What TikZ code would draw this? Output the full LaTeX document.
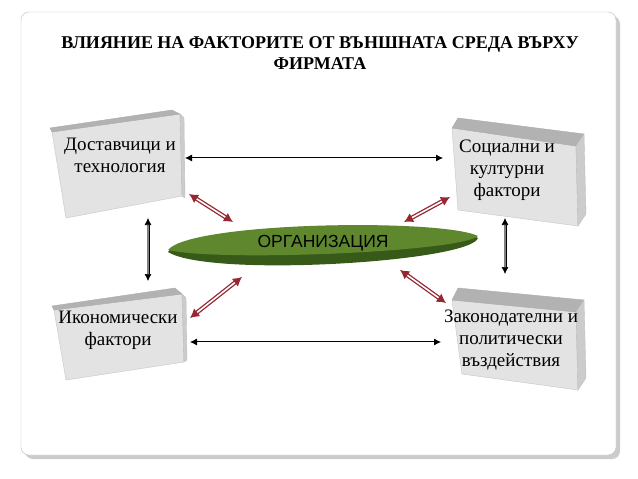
\documentclass[tikz,border=0pt]{standalone}
\usepackage{fontspec}
\setmainfont{Liberation Serif}
\newfontfamily\sansf{Liberation Sans}
\usetikzlibrary{arrows.meta}
\definecolor{orgdark}{RGB}{55,90,25}
\definecolor{orglight}{RGB}{95,135,45}
\definecolor{redarr}{RGB}{150,40,50}
\tikzset{
 front/.style={fill=gray!22,draw=gray!45},
 topf/.style={fill=gray!60,draw=gray!65},
 sidef/.style={fill=gray!40,draw=gray!50},
 lbl/.style={align=center,font=\fontsize{19}{22}\selectfont},
 redar/.style={draw=redarr,double=white,double distance=1.6pt,line width=1.3pt,{Latex[length=9pt,width=10pt]}-{Latex[length=9pt,width=10pt]}},
 blkar/.style={draw=black,double=white,double distance=1pt,line width=0.8pt,{Latex[length=7pt,width=7pt]}-{Latex[length=7pt,width=7pt]}},
 vblk/.style={draw=black,double=gray,double distance=1.6pt,line width=0.7pt,{Latex[length=7pt,width=7pt]}-{Latex[length=7pt,width=7pt]}}
}
\begin{document}
\begin{tikzpicture}[x=1pt,y=-1pt]
\useasboundingbox (0,0) rectangle (638,479);
\fill[white] (0,0) rectangle (638,479);
\fill[gray!40,rounded corners=8pt] (25,16) rectangle (620,459);
\draw[gray!50,fill=white,rounded corners=8pt] (21,12) rectangle (616,455);
\node[font=\bfseries\fontsize{18}{21}\selectfont,align=center] (title) at (320,53) {ВЛИЯНИЕ НА ФАКТОРИТЕ ОТ ВЪНШНАТА СРЕДА ВЪРХУ\\ФИРМАТА};
% TL box
\draw[front] (52,132) -- (180,114) -- (182,196) -- (66,218) -- cycle;
\draw[topf] (50,128) -- (172,110) -- (180,114) -- (52,132) -- cycle;
\draw[sidef] (180,114) -- (184,118) -- (185,198) -- (182,196) -- cycle;
\node[lbl] (sup) at (120,155) {Доставчици и\\технология};
% TR box
\draw[front] (452,128) -- (576,146) -- (578,226) -- (458,210) -- cycle;
\draw[topf] (452,128) -- (458,118) -- (584,134) -- (576,146) -- cycle;
\draw[sidef] (576,146) -- (584,134) -- (586,214) -- (578,226) -- cycle;
\node[lbl] (soc) at (507,170) {Социални и\\културни\\фактори};
% BL box
\draw[front] (54,310) -- (182,294) -- (184,362) -- (66,380) -- cycle;
\draw[topf] (52,306) -- (175,288) -- (182,294) -- (54,310) -- cycle;
\draw[sidef] (182,294) -- (186,298) -- (187,360) -- (184,362) -- cycle;
\node[lbl] (eco) at (118,330) {Икономически\\фактори};
% BR box
\draw[front] (452,300) -- (576,312) -- (578,390) -- (462,374) -- cycle;
\draw[topf] (452,300) -- (458,288) -- (584,300) -- (576,312) -- cycle;
\draw[sidef] (576,312) -- (584,300) -- (586,378) -- (578,390) -- cycle;
\node[lbl] (law) at (511,340) {Законодателни и\\политически\\въздействия};
% organization
\fill[orgdark] (168,252) .. controls (190,222) and (440,218) .. (478,238) .. controls (470,262) and (210,278) .. cycle;
\fill[orglight] (168,250) .. controls (190,222) and (440,218) .. (478,236) .. controls (460,252) and (220,262) .. cycle;
\node[font=\sansf\fontsize{17.5}{20}\selectfont] (org) at (323,243) {ОРГАНИЗАЦИЯ};
% arrow endpoints
\coordinate (a1) at (189,194); \coordinate (a2) at (233,222);
\coordinate (b1) at (450,197); \coordinate (b2) at (404,222);
\coordinate (c1) at (190,318); \coordinate (c2) at (242,277);
\coordinate (d1) at (446,303); \coordinate (d2) at (400,270);
\coordinate (h1) at (185,158); \coordinate (h2) at (443,158);
\coordinate (g1) at (190,342); \coordinate (g2) at (441,342);
\coordinate (v1) at (148,218); \coordinate (v2) at (148,281);
\coordinate (w1) at (505,218); \coordinate (w2) at (505,274);
\draw[redar] (a1) -- (a2);
\draw[redar] (b1) -- (b2);
\draw[redar] (c1) -- (c2);
\draw[redar] (d1) -- (d2);
\draw[blkar] (h1) -- (h2);
\draw[blkar] (g1) -- (g2);
\draw[vblk] (v1) -- (v2);
\draw[vblk] (w1) -- (w2);
\end{tikzpicture}
\end{document}
